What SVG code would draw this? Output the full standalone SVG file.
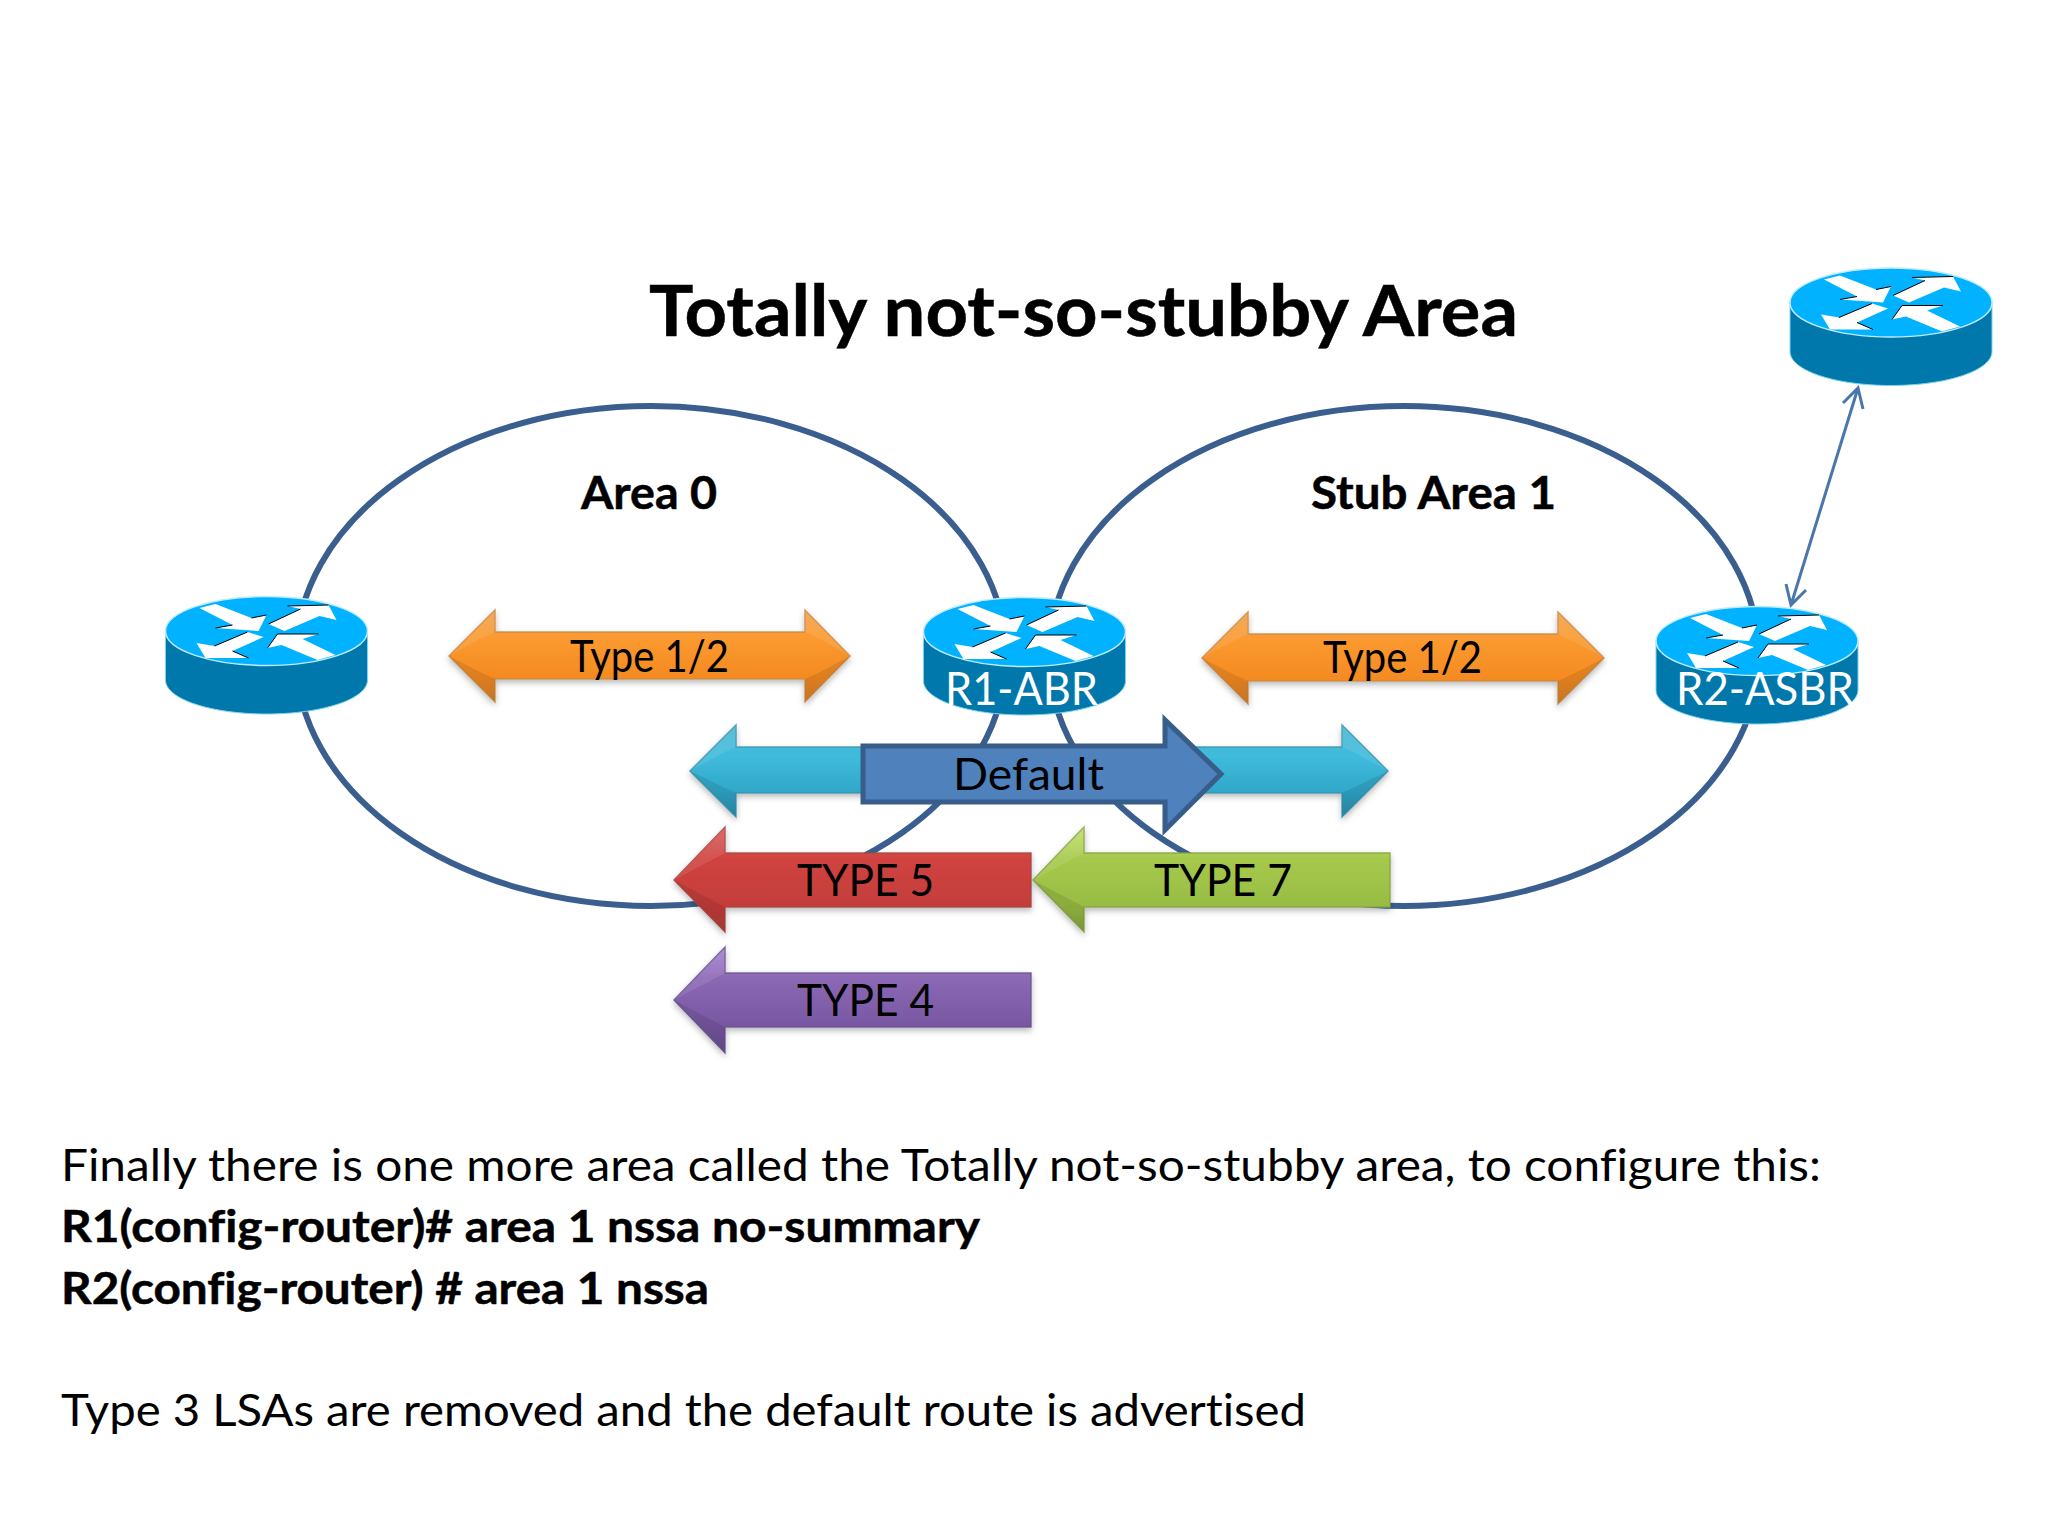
<svg xmlns="http://www.w3.org/2000/svg" xmlns:xlink="http://www.w3.org/1999/xlink" width="2048" height="1536" viewBox="0 0 2048 1536">
<style>
text{font-family:"Lato","Liberation Sans",sans-serif;fill:#000;font-variant-ligatures:none}
.b{font-weight:700;stroke:#000;stroke-width:.5}
.lab{font-size:45px}
.rl{font-size:46px;fill:#fff}
.body{font-size:44px}
.ring{fill:none;stroke:#3A5F8F;stroke-width:6}
.fac1{fill:#fff;opacity:.09}
.fac2{fill:#000;opacity:.09}
.link{fill:none;stroke:#4A76AE;stroke-width:3}
.ar{stroke-width:1.5;stroke-opacity:.85}
</style>
<defs>
<filter id="sh" x="-5%" y="-10%" width="110%" height="125%"><feDropShadow dx="0" dy="3" stdDeviation="3" flood-color="#000" flood-opacity=".28"/></filter>
<linearGradient id="og" x1="0" y1="0" x2="0" y2="1"><stop offset="0" stop-color="#F2A24A"/><stop offset=".3" stop-color="#FB9A30"/><stop offset=".72" stop-color="#F48B22"/><stop offset="1" stop-color="#D98229"/></linearGradient>
<linearGradient id="cg" x1="0" y1="0" x2="0" y2="1"><stop offset="0" stop-color="#4DB8D4"/><stop offset=".35" stop-color="#3FBBDC"/><stop offset=".75" stop-color="#2FA6C8"/><stop offset="1" stop-color="#2C8FAE"/></linearGradient>
<linearGradient id="rg" x1="0" y1="0" x2="0" y2="1"><stop offset="0" stop-color="#D95D5B"/><stop offset=".3" stop-color="#D04340"/><stop offset=".8" stop-color="#C23D3A"/><stop offset="1" stop-color="#AF423F"/></linearGradient>
<linearGradient id="gg" x1="0" y1="0" x2="0" y2="1"><stop offset="0" stop-color="#C5DF68"/><stop offset=".3" stop-color="#A6C94D"/><stop offset=".8" stop-color="#97BA42"/><stop offset="1" stop-color="#85A33E"/></linearGradient>
<linearGradient id="pg" x1="0" y1="0" x2="0" y2="1"><stop offset="0" stop-color="#A881D2"/><stop offset=".3" stop-color="#8B68B4"/><stop offset=".8" stop-color="#7655A0"/><stop offset="1" stop-color="#66508F"/></linearGradient>
<g id="router">
<path d="M-101 0V49C-101 68 -56 83 0 83S101 68 101 49V0Z" fill="#0078AC" stroke="#7FD3F0" stroke-width="1"/>
<ellipse cx="0" cy="0" rx="101" ry="34.5" fill="#00B2FF" stroke="#BDEBFF" stroke-width="1.5"/>
<g fill="#fff">
<polygon points="-67,-23 -51,-27 -15,-13 0,-16 -8,0 -51,-3 -34,-6"/>
<polygon points="2,-7 34,-22 21,-25 62,-26 70,-11 53,-15 18,0"/>
<polygon points="-3,6 -19,1 -52,15 -70,12 -61,27 -18,27 -34,20"/>
<polygon points="1,17 11,3 52,3 36,8 69,24 51,29 15,14"/>
</g>
<path d="M-15 -13L0 -16M-51 -3L-34 -6M2 -7L34 -22M21 -25L62 -26M-19 1L-52 15M-34 20L-18 27M1 17L11 3L52 3" fill="none" stroke="#000" stroke-width="1"/>
</g>
</defs>
<rect width="2048" height="1536" fill="#fff"/>
<text id="title" class="b" x="649" y="336" font-size="70" textLength="869" lengthAdjust="spacingAndGlyphs">Totally not-so-stubby Area</text>
<g id="connectors">
<ellipse class="ring" cx="651" cy="656" rx="355" ry="250"/>
<ellipse class="ring" cx="1404" cy="656" rx="355" ry="250"/>
<path class="link" d="M1858 388L1791 605M1843 403L1858 388L1863 409M1786 584L1791 605L1806 590"/>
</g>
<g id="area0-label"><text class="b lab" x="581" y="509" textLength="136" lengthAdjust="spacingAndGlyphs">Area 0</text></g>
<g id="area1-label"><text class="b lab" x="1311" y="509" textLength="245" lengthAdjust="spacingAndGlyphs">Stub Area 1</text></g>
<g id="router-left"><use xlink:href="#router" href="#router" x="266.5" y="631"/></g>
<g id="router-r1"><use xlink:href="#router" href="#router" x="1024.5" y="632"/><text class="rl" x="945" y="705" textLength="153" lengthAdjust="spacingAndGlyphs">R1-ABR</text></g>
<g id="router-r2"><use xlink:href="#router" href="#router" x="1757" y="641"/><text class="rl" x="1676" y="705" textLength="178" lengthAdjust="spacingAndGlyphs">R2-ASBR</text></g>
<g id="router-ext"><use xlink:href="#router" href="#router" x="1891" y="302.5"/></g>
<g id="arrow-type12-a">
<polygon class="ar" stroke="#C98A45" filter="url(#sh)" fill="url(#og)" points="449,656 495,610 495,632 805,632 805,610 850,656 805,702 805,679 495,679 495,702"/>
<polygon class="fac1" points="449,656 495,610 495,632 478,640"/><polygon class="fac2" points="449,656 495,702 495,679 478,671"/>
<polygon class="fac2" points="850,656 805,702 805,679 822,671"/><polygon class="fac1" points="850,656 805,610 805,632 822,640"/>
<text class="lab" x="570" y="672" textLength="159" lengthAdjust="spacingAndGlyphs">Type 1/2</text>
</g>
<g id="arrow-type12-b">
<polygon class="ar" stroke="#C98A45" filter="url(#sh)" fill="url(#og)" points="1202,658 1248,612 1248,634 1558,634 1558,612 1604,658 1558,704 1558,681 1248,681 1248,704"/>
<polygon class="fac1" points="1202,658 1248,612 1248,634 1231,642"/><polygon class="fac2" points="1202,658 1248,704 1248,681 1231,673"/>
<polygon class="fac2" points="1604,658 1558,704 1558,681 1575,673"/><polygon class="fac1" points="1604,658 1558,612 1558,634 1575,642"/>
<text class="lab" x="1323" y="673" textLength="159" lengthAdjust="spacingAndGlyphs">Type 1/2</text>
</g>
<g id="arrow-cyan">
<polygon class="ar" stroke="#3A94B0" filter="url(#sh)" fill="url(#cg)" points="690,771 736,725 736,747 1342,747 1342,725 1388,771 1342,817 1342,793 736,793 736,817"/>
<polygon class="fac1" points="690,771 736,725 736,747 719,755"/><polygon class="fac2" points="690,771 736,817 736,793 719,785"/>
<polygon class="fac2" points="1388,771 1342,817 1342,793 1359,785"/><polygon class="fac1" points="1388,771 1342,725 1342,747 1359,755"/>
</g>
<g id="arrow-default">
<polygon fill="#4F81BD" stroke="#385D8A" stroke-width="5" points="863,746 1165,746 1165,720 1221,774 1165,830 1165,802 863,802"/>
<text class="lab" x="953" y="790" textLength="151" lengthAdjust="spacingAndGlyphs">Default</text>
</g>
<g id="arrow-type5">
<polygon class="ar" stroke="#A84644" filter="url(#sh)" fill="url(#rg)" points="674,880 725,827 725,853 1031,853 1031,907 725,907 725,932"/>
<polygon class="fac1" points="674,880 725,827 725,853 708,862"/><polygon class="fac2" points="674,880 725,932 725,907 708,898"/>
<text class="lab" x="797" y="896" textLength="137" lengthAdjust="spacingAndGlyphs">TYPE 5</text>
</g>
<g id="arrow-type7">
<polygon class="ar" stroke="#86A345" filter="url(#sh)" fill="url(#gg)" points="1033,880 1084,827 1084,853 1390,853 1390,907 1084,907 1084,932"/>
<polygon class="fac1" points="1033,880 1084,827 1084,853 1067,862"/><polygon class="fac2" points="1033,880 1084,932 1084,907 1067,898"/>
<text class="lab" x="1154" y="896" textLength="138" lengthAdjust="spacingAndGlyphs">TYPE 7</text>
</g>
<g id="arrow-type4">
<polygon class="ar" stroke="#6A5590" filter="url(#sh)" fill="url(#pg)" points="674,1000 725,947 725,973 1031,973 1031,1027 725,1027 725,1053"/>
<polygon class="fac1" points="674,1000 725,947 725,973 708,982"/><polygon class="fac2" points="674,1000 725,1053 725,1027 708,1018"/>
<text class="lab" x="797" y="1016" textLength="137" lengthAdjust="spacingAndGlyphs">TYPE 4</text>
</g>
<g id="notes">
<text class="body" x="61" y="1181" textLength="1760" lengthAdjust="spacingAndGlyphs">Finally there is one more area called the Totally not-so-stubby area, to configure this:</text>
<text class="body b" x="61" y="1242" textLength="919" lengthAdjust="spacingAndGlyphs">R1(config-router)# area 1 nssa no-summary</text>
<text class="body b" x="61" y="1304" textLength="648" lengthAdjust="spacingAndGlyphs">R2(config-router) # area 1 nssa</text>
<text class="body" x="61" y="1426" textLength="1245" lengthAdjust="spacingAndGlyphs">Type 3 LSAs are removed and the default route is advertised</text>
</g>
</svg>
